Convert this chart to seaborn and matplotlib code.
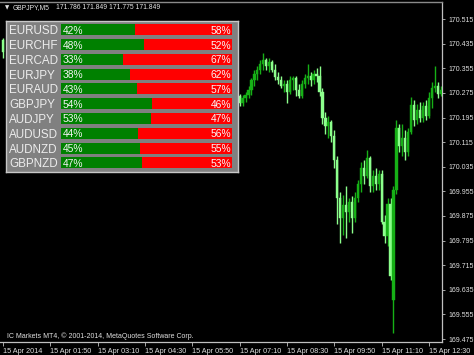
import matplotlib
matplotlib.use("Agg")
import matplotlib.pyplot as plt
import seaborn as sns
import numpy as np

# ---------------- data ----------------
pairs = ["EURUSD", "EURCHF", "EURCAD", "EURJPY", "EURAUD",
         "GBPJPY", "AUDJPY", "AUDUSD", "AUDNZD", "GBPNZD"]
buy_pct = [42, 48, 33, 38, 43, 54, 53, 44, 45, 47]
sell_pct = [58, 52, 67, 62, 57, 46, 47, 56, 55, 53]

# bar number (M5 bars counted from 00:30)
bar_index = [0] + list(range(77, 149))
opens = [170.447,
         170.268, 170.258, 170.278, 170.265, 170.242, 170.258, 170.268, 170.284, 170.317, 170.336,
         170.349, 170.369, 170.382, 170.362, 170.375, 170.349, 170.327, 170.317, 170.297, 170.304,
         170.278, 170.317, 170.323, 170.284, 170.265, 170.304, 170.323, 170.330, 170.317, 170.336,
         170.330, 170.278, 170.194, 170.168, 170.181, 170.135, 170.057, 169.934, 169.869, 169.911,
         169.888, 169.921, 169.869, 169.934, 169.979, 170.031, 170.005, 170.064, 169.973, 170.005,
         169.979, 170.012, 169.856, 169.810, 169.914, 169.602, 169.960, 170.161, 170.103, 170.129,
         170.083, 170.148, 170.236, 170.187, 170.220, 170.194, 170.232, 170.200, 170.258, 170.291,
         170.297, 170.271]
highs = [170.453,
         170.284, 170.291, 170.301, 170.271, 170.268, 170.278, 170.297, 170.323, 170.349, 170.362,
         170.382, 170.405, 170.388, 170.388, 170.382, 170.369, 170.343, 170.330, 170.317, 170.317,
         170.330, 170.330, 170.330, 170.304, 170.317, 170.336, 170.369, 170.343, 170.349, 170.356,
         170.362, 170.291, 170.213, 170.200, 170.187, 170.155, 170.070, 169.953, 169.943, 169.973,
         169.934, 169.940, 169.953, 169.992, 170.051, 170.057, 170.090, 170.070, 170.025, 170.031,
         170.025, 170.025, 169.878, 169.934, 169.934, 169.973, 170.187, 170.174, 170.174, 170.155,
         170.161, 170.262, 170.252, 170.239, 170.245, 170.245, 170.252, 170.278, 170.310, 170.362,
         170.310, 170.297]
lows = [170.388,
        170.245, 170.239, 170.252, 170.232, 170.232, 170.245, 170.258, 170.268, 170.297, 170.317,
        170.336, 170.349, 170.349, 170.343, 170.343, 170.317, 170.304, 170.291, 170.278, 170.242,
        170.271, 170.284, 170.265, 170.258, 170.258, 170.291, 170.304, 170.297, 170.304, 170.310,
        170.265, 170.174, 170.142, 170.129, 170.116, 170.031, 169.849, 169.787, 169.813, 169.804,
        169.856, 169.820, 169.856, 169.921, 169.953, 169.979, 169.999, 169.953, 169.953, 169.960,
        169.960, 169.849, 169.787, 169.778, 169.667, 169.495, 169.947, 170.083, 170.070, 170.057,
        170.070, 170.142, 170.168, 170.174, 170.181, 170.181, 170.187, 170.194, 170.226, 170.278,
        170.258, 170.265]
closes = [170.408,
          170.258, 170.278, 170.265, 170.242, 170.258, 170.268, 170.284, 170.317, 170.336, 170.349,
          170.369, 170.382, 170.362, 170.375, 170.349, 170.327, 170.317, 170.297, 170.304, 170.278,
          170.317, 170.323, 170.284, 170.265, 170.304, 170.323, 170.330, 170.317, 170.336, 170.330,
          170.278, 170.194, 170.168, 170.181, 170.135, 170.057, 169.934, 169.869, 169.911, 169.888,
          169.921, 169.869, 169.934, 169.979, 170.031, 170.005, 170.064, 169.973, 170.005, 169.979,
          170.012, 169.856, 169.810, 169.914, 169.680, 169.960, 170.161, 170.103, 170.129, 170.083,
          170.148, 170.236, 170.187, 170.220, 170.194, 170.232, 170.200, 170.258, 170.291, 170.297,
          170.271, 170.284]

time_ticks = [0, 16, 32, 48, 64, 80, 96, 112, 128, 144]
time_labels = ["15 Apr 2014", "15 Apr 01:50", "15 Apr 03:10", "15 Apr 04:30",
               "15 Apr 05:50", "15 Apr 07:10", "15 Apr 08:30", "15 Apr 09:50",
               "15 Apr 11:10", "15 Apr 12:30"]
price_ticks = [170.515, 170.435, 170.355, 170.275, 170.195, 170.115, 170.035,
               169.955, 169.875, 169.795, 169.715, 169.635, 169.555, 169.475]

symbol_title = "GBPJPY,M5"
ohlc_title = "171.786 171.849 171.775 171.849"
footer = "IC Markets MT4, \u00a9 2001-2014, MetaQuotes Software Corp."

# ---------------- style ----------------
sns.set_theme(style="dark", rc={"axes.facecolor": "black", "figure.facecolor": "black"})
plt.rcParams["font.family"] = ["Liberation Sans", "DejaVu Sans"]

W, H = 474, 355
fig = plt.figure(figsize=(W / 100, H / 100), dpi=100, facecolor="black")

# main price axes
ax = fig.add_axes([0, (H - 342) / H, 442 / W, (342 - 2) / H])
ax.set_facecolor("black")
ax.grid(False)

bull, bear = "#16b016", "#8cff8c"
o = np.array(opens); c = np.array(closes)
cols = [bull if cc >= oo else bear for oo, cc in zip(o, c)]
ax.vlines(bar_index, lows, highs, colors=cols, linewidth=1.0, zorder=2)
body_h = np.maximum(np.abs(c - o), 0.002)
ax.bar(bar_index, body_h, bottom=np.minimum(o, c), width=0.75, color=cols,
       edgecolor=cols, linewidth=0.3, zorder=3)

ax.set_xlim(-1.014, 148.41)
ax.set_ylim(169.4655, 170.5705)

ax.yaxis.tick_right()
ax.set_yticks(price_ticks)
ax.set_yticklabels([f"{v:.3f}" for v in price_ticks])
ax.set_xticks(time_ticks)
ax.set_xticklabels(time_labels, ha="left")
ax.tick_params(axis="y", which="both", right=True, left=False, length=2.5, width=0.6,
               color="#c0c0c0", labelcolor="#e0e0e0", labelsize=5, pad=2)
ax.tick_params(axis="x", which="both", bottom=True, length=3, width=0.6,
               color="#c0c0c0", labelcolor="#e0e0e0", labelsize=5.2, pad=1)
ax.spines["left"].set_visible(False)
for side in ["right", "bottom"]:
    ax.spines[side].set_visible(True)
    ax.spines[side].set_color("#c0c0c0")
    ax.spines[side].set_linewidth(0.9)
ax.spines["top"].set_visible(True)
ax.spines["top"].set_color("#8a8a8a")
ax.spines["top"].set_linewidth(1.0)

# ---------------- percentage panel ----------------
pax = fig.add_axes([6 / W, 1 - 172 / H, 232 / W, 151 / H])
pax.set_facecolor("#808080")
lo, hi = -11.9, 112.0
sns.barplot(x=[hi - lo] * len(pairs), y=pairs, orient="y", left=lo, color="#ff0000",
            saturation=1, width=0.744, linewidth=0, ax=pax)
sns.barplot(x=[b - lo for b in buy_pct], y=pairs, orient="y", left=lo, color="#008000",
            saturation=1, width=0.744, linewidth=0, ax=pax)
pax.set_xlim(-51.7, 116.3)
pax.set_ylim(9.62, -0.595)
pax.set_xticks([]); pax.set_yticks([])
pax.set_xlabel(""); pax.set_ylabel("")
for s in pax.spines.values():
    s.set_visible(True)
    s.set_color("#c8c8c8")
    s.set_linewidth(1.0)
for i, (p, b, s) in enumerate(zip(pairs, buy_pct, sell_pct)):
    pax.text(-49.3, i, p, ha="left", va="center_baseline", fontsize=8.4, color="#ececec")
    pax.text(-10.8, i, f"{b}%", ha="left", va="center_baseline", fontsize=7.4, color="#f4f4f4")
    pax.text(111.3, i, f"{s}%", ha="right", va="center_baseline", fontsize=7.4, color="#f8f8f8")

# ---------------- header / footer text ----------------
fig.text(5 / W, 1 - 7.5 / H, "\u25bc", fontsize=4, color="#e0e0e0", ha="left", va="center",
         family=["DejaVu Sans"])
fig.text(13 / W, 1 - 7.5 / H, symbol_title, fontsize=4.9, color="#e8e8e8", ha="left", va="center")
fig.text(56 / W, 1 - 7.5 / H, ohlc_title, fontsize=4.9, color="#e8e8e8", ha="left", va="center")
fig.text(7 / W, 1 - 336 / H, footer, fontsize=5, color="#e0e0e0", ha="left", va="center")

fig.savefig("out.png", dpi=100, facecolor="black")
